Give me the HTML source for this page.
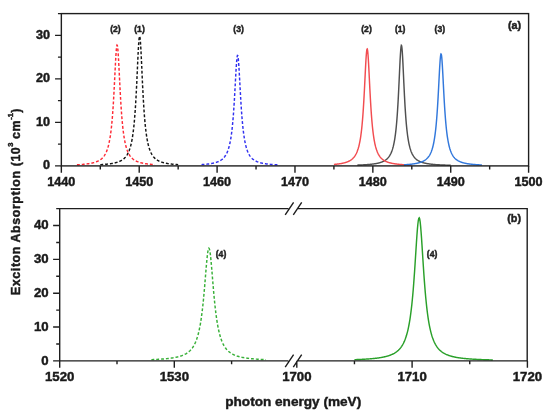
<!DOCTYPE html>
<html><head><meta charset="utf-8"><title>Exciton Absorption</title>
<style>
html,body{margin:0;padding:0;background:#fff;}
body{width:550px;height:414px;overflow:hidden;}
svg{display:block;}
text{font-family:"Liberation Sans",Arial,sans-serif;font-weight:bold;fill:#1a1a1a;stroke:#1a1a1a;stroke-width:0.45px;}
.t{font-size:12.6px;}
.tb{font-size:13.2px;}
.s{font-size:8.6px;fill:#222;stroke:#222;}
.p{font-size:10.8px;fill:#222;stroke:#222;}
.xt{font-size:13.6px;}
.yt{font-size:12.4px;letter-spacing:0.6px;}
.sup{font-size:7.6px;letter-spacing:0.2px;}
</style></head><body>
<svg width="550" height="414" viewBox="0 0 550 414">
<path d="M76.92,164.78 L77.19,164.76 L77.45,164.75 L77.71,164.73 L77.97,164.72 L78.23,164.70 L78.49,164.68 L78.75,164.67 L79.01,164.65 L79.27,164.63 L79.53,164.62 L79.79,164.60 L80.05,164.58 L80.31,164.56 L80.57,164.54 L80.83,164.52 L81.09,164.50 L81.35,164.48 L81.61,164.46 L81.87,164.44 L82.13,164.42 L82.39,164.40 L82.65,164.38 L82.92,164.35 L83.18,164.33 L83.44,164.30 L83.70,164.28 L83.96,164.26 L84.22,164.23 L84.48,164.20 L84.74,164.18 L85.00,164.15 L85.26,164.12 L85.52,164.09 L85.78,164.06 L86.04,164.03 L86.30,164.00 L86.56,163.97 L86.82,163.93 L87.08,163.90 L87.34,163.87 L87.60,163.83 L87.86,163.79 L88.12,163.76 L88.38,163.72 L88.65,163.68 L88.91,163.64 L89.17,163.60 L89.43,163.55 L89.69,163.51 L89.95,163.47 L90.21,163.42 L90.47,163.37 L90.73,163.32 L90.99,163.27 L91.25,163.22 L91.51,163.17 L91.77,163.11 L92.03,163.05 L92.29,163.00 L92.55,162.94 L92.81,162.87 L93.07,162.81 L93.33,162.74 L93.59,162.67 L93.85,162.60 L94.11,162.53 L94.38,162.45 L94.64,162.38 L94.90,162.30 L95.16,162.21 L95.42,162.13 L95.68,162.04 L95.94,161.94 L96.20,161.85 L96.46,161.75 L96.72,161.65 L96.98,161.54 L97.24,161.43 L97.50,161.31 L97.76,161.19 L98.02,161.07 L98.28,160.94 L98.54,160.81 L98.80,160.67 L99.06,160.52 L99.32,160.37 L99.58,160.21 L99.84,160.05 L100.11,159.88 L100.37,159.70 L100.63,159.51 L100.89,159.31 L101.15,159.11 L101.41,158.90 L101.67,158.67 L101.93,158.44 L102.19,158.19 L102.45,157.93 L102.71,157.66 L102.97,157.38 L103.23,157.08 L103.49,156.76 L103.75,156.43 L104.01,156.08 L104.27,155.71 L104.53,155.32 L104.79,154.91 L105.05,154.48 L105.31,154.02 L105.57,153.53 L105.84,153.02 L106.10,152.47 L106.36,151.89 L106.62,151.27 L106.88,150.61 L107.14,149.91 L107.40,149.16 L107.66,148.36 L107.92,147.50 L108.18,146.59 L108.44,145.61 L108.70,144.56 L108.96,143.43 L109.22,142.21 L109.48,140.91 L109.74,139.50 L110.00,137.99 L110.26,136.35 L110.52,134.59 L110.78,132.68 L111.04,130.61 L111.30,128.38 L111.57,125.96 L111.83,123.35 L112.09,120.52 L112.35,117.46 L112.61,114.17 L112.87,110.61 L113.13,106.79 L113.39,102.71 L113.65,98.35 L113.91,93.74 L114.17,88.89 L114.43,83.85 L114.69,78.66 L114.95,73.41 L115.21,68.21 L115.47,63.17 L115.73,58.44 L115.99,54.19 L116.25,50.58 L116.51,47.77 L116.77,45.90 L117.03,45.06 L117.29,45.29 L117.56,46.59 L117.82,48.88 L118.08,52.05 L118.34,55.96 L118.60,60.43 L118.86,65.32 L119.12,70.44 L119.38,75.68 L119.64,80.91 L119.90,86.05 L120.16,91.01 L120.42,95.76 L120.68,100.26 L120.94,104.51 L121.20,108.48 L121.46,112.18 L121.72,115.62 L121.98,118.81 L122.24,121.77 L122.50,124.50 L122.76,127.03 L123.02,129.37 L123.29,131.52 L123.55,133.52 L123.81,135.37 L124.07,137.07 L124.33,138.66 L124.59,140.12 L124.85,141.48 L125.11,142.75 L125.37,143.92 L125.63,145.02 L125.89,146.04 L126.15,146.99 L126.41,147.88 L126.67,148.71 L126.93,149.49 L127.19,150.21 L127.45,150.90 L127.71,151.54 L127.97,152.14 L128.23,152.71 L128.49,153.24 L128.75,153.75 L129.02,154.22 L129.28,154.67 L129.54,155.09 L129.80,155.50 L130.06,155.88 L130.32,156.24 L130.58,156.58 L130.84,156.90 L131.10,157.21 L131.36,157.50 L131.62,157.78 L131.88,158.05 L132.14,158.30 L132.40,158.54 L132.66,158.77 L132.92,158.99 L133.18,159.20 L133.44,159.40 L133.70,159.59 L133.96,159.78 L134.22,159.95 L134.48,160.12 L134.75,160.28 L135.01,160.44 L135.27,160.59 L135.53,160.73 L135.79,160.87 L136.05,161.00 L136.31,161.12 L136.57,161.25 L136.83,161.36 L137.09,161.48 L137.35,161.59 L137.61,161.69 L137.87,161.79 L138.13,161.89 L138.39,161.98 L138.65,162.08 L138.91,162.16 L139.17,162.25 L139.43,162.33 L139.69,162.41 L139.95,162.49 L140.21,162.56 L140.48,162.63 L140.74,162.70 L141.00,162.77 L141.26,162.84 L141.52,162.90 L141.78,162.96 L142.04,163.02 L142.30,163.08 L142.56,163.14 L142.82,163.19 L143.08,163.24 L143.34,163.29 L143.60,163.34 L143.86,163.39 L144.12,163.44 L144.38,163.49 L144.64,163.53 L144.90,163.57 L145.16,163.62 L145.42,163.66 L145.68,163.70 L145.94,163.74 L146.21,163.77 L146.47,163.81 L146.73,163.85 L146.99,163.88 L147.25,163.92 L147.51,163.95 L147.77,163.98 L148.03,164.01 L148.29,164.04 L148.55,164.07 L148.81,164.10 L149.07,164.13 L149.33,164.16 L149.59,164.19 L149.85,164.21 L150.11,164.24 L150.37,164.27 L150.63,164.29 L150.89,164.32 L151.15,164.34 L151.41,164.36 L151.67,164.39 L151.94,164.41 L152.20,164.43 L152.46,164.45 L152.72,164.47 L152.98,164.49 L153.24,164.51 L153.50,164.53 L153.76,164.55 L154.02,164.57 L154.28,164.59 L154.54,164.61 L154.80,164.62" fill="none" stroke="#ff2a35" stroke-width="1.45" stroke-dasharray="2.9 1.95"/>
<path d="M100.29,164.69 L100.55,164.67 L100.81,164.66 L101.07,164.64 L101.33,164.62 L101.59,164.61 L101.85,164.59 L102.11,164.57 L102.37,164.55 L102.63,164.53 L102.89,164.51 L103.15,164.50 L103.41,164.48 L103.67,164.45 L103.93,164.43 L104.19,164.41 L104.45,164.39 L104.72,164.37 L104.98,164.35 L105.24,164.32 L105.50,164.30 L105.76,164.27 L106.02,164.25 L106.28,164.22 L106.54,164.20 L106.80,164.17 L107.06,164.14 L107.32,164.11 L107.58,164.09 L107.84,164.06 L108.10,164.03 L108.36,164.00 L108.62,163.96 L108.88,163.93 L109.14,163.90 L109.40,163.86 L109.66,163.83 L109.92,163.79 L110.18,163.76 L110.45,163.72 L110.71,163.68 L110.97,163.64 L111.23,163.60 L111.49,163.56 L111.75,163.51 L112.01,163.47 L112.27,163.42 L112.53,163.38 L112.79,163.33 L113.05,163.28 L113.31,163.23 L113.57,163.17 L113.83,163.12 L114.09,163.06 L114.35,163.01 L114.61,162.95 L114.87,162.89 L115.13,162.82 L115.39,162.76 L115.65,162.69 L115.91,162.62 L116.18,162.55 L116.44,162.48 L116.70,162.40 L116.96,162.32 L117.22,162.24 L117.48,162.16 L117.74,162.07 L118.00,161.98 L118.26,161.89 L118.52,161.79 L118.78,161.69 L119.04,161.59 L119.30,161.48 L119.56,161.37 L119.82,161.25 L120.08,161.13 L120.34,161.01 L120.60,160.88 L120.86,160.74 L121.12,160.60 L121.38,160.46 L121.64,160.31 L121.90,160.15 L122.17,159.98 L122.43,159.81 L122.69,159.63 L122.95,159.44 L123.21,159.25 L123.47,159.04 L123.73,158.83 L123.99,158.60 L124.25,158.37 L124.51,158.12 L124.77,157.86 L125.03,157.59 L125.29,157.31 L125.55,157.01 L125.81,156.69 L126.07,156.36 L126.33,156.01 L126.59,155.64 L126.85,155.26 L127.11,154.85 L127.37,154.41 L127.63,153.95 L127.90,153.47 L128.16,152.96 L128.42,152.41 L128.68,151.83 L128.94,151.21 L129.20,150.56 L129.46,149.86 L129.72,149.11 L129.98,148.32 L130.24,147.47 L130.50,146.56 L130.76,145.59 L131.02,144.54 L131.28,143.42 L131.54,142.22 L131.80,140.92 L132.06,139.53 L132.32,138.02 L132.58,136.40 L132.84,134.64 L133.10,132.74 L133.36,130.68 L133.63,128.46 L133.89,126.05 L134.15,123.43 L134.41,120.60 L134.67,117.53 L134.93,114.21 L135.19,110.62 L135.45,106.74 L135.71,102.57 L135.97,98.10 L136.23,93.32 L136.49,88.27 L136.75,82.95 L137.01,77.41 L137.27,71.73 L137.53,65.98 L137.79,60.30 L138.05,54.83 L138.31,49.73 L138.57,45.20 L138.83,41.43 L139.09,38.59 L139.36,36.82 L139.62,36.23 L139.88,36.83 L140.14,38.61 L140.40,41.46 L140.66,45.24 L140.92,49.78 L141.18,54.88 L141.44,60.36 L141.70,66.04 L141.96,71.78 L142.22,77.47 L142.48,83.00 L142.74,88.32 L143.00,93.37 L143.26,98.14 L143.52,102.61 L143.78,106.78 L144.04,110.65 L144.30,114.24 L144.56,117.56 L144.82,120.63 L145.09,123.46 L145.35,126.07 L145.61,128.48 L145.87,130.71 L146.13,132.76 L146.39,134.66 L146.65,136.41 L146.91,138.04 L147.17,139.54 L147.43,140.94 L147.69,142.23 L147.95,143.43 L148.21,144.55 L148.47,145.60 L148.73,146.57 L148.99,147.48 L149.25,148.33 L149.51,149.12 L149.77,149.87 L150.03,150.56 L150.29,151.22 L150.55,151.84 L150.82,152.41 L151.08,152.96 L151.34,153.47 L151.60,153.96 L151.86,154.42 L152.12,154.85 L152.38,155.26 L152.64,155.65 L152.90,156.02 L153.16,156.36 L153.42,156.70 L153.68,157.01 L153.94,157.31 L154.20,157.59 L154.46,157.87 L154.72,158.12 L154.98,158.37 L155.24,158.60 L155.50,158.83 L155.76,159.04 L156.02,159.25 L156.28,159.44 L156.55,159.63 L156.81,159.81 L157.07,159.98 L157.33,160.15 L157.59,160.31 L157.85,160.46 L158.11,160.60 L158.37,160.74 L158.63,160.88 L158.89,161.01 L159.15,161.13 L159.41,161.25 L159.67,161.37 L159.93,161.48 L160.19,161.59 L160.45,161.69 L160.71,161.79 L160.97,161.89 L161.23,161.98 L161.49,162.07 L161.75,162.16 L162.01,162.24 L162.27,162.32 L162.54,162.40 L162.80,162.48 L163.06,162.55 L163.32,162.62 L163.58,162.69 L163.84,162.76 L164.10,162.82 L164.36,162.89 L164.62,162.95 L164.88,163.01 L165.14,163.07 L165.40,163.12 L165.66,163.18 L165.92,163.23 L166.18,163.28 L166.44,163.33 L166.70,163.38 L166.96,163.42 L167.22,163.47 L167.48,163.51 L167.74,163.56 L168.00,163.60 L168.27,163.64 L168.53,163.68 L168.79,163.72 L169.05,163.76 L169.31,163.79 L169.57,163.83 L169.83,163.86 L170.09,163.90 L170.35,163.93 L170.61,163.96 L170.87,164.00 L171.13,164.03 L171.39,164.06 L171.65,164.09 L171.91,164.11 L172.17,164.14 L172.43,164.17 L172.69,164.20 L172.95,164.22 L173.21,164.25 L173.47,164.27 L173.73,164.30 L174.00,164.32 L174.26,164.35 L174.52,164.37 L174.78,164.39 L175.04,164.41 L175.30,164.43 L175.56,164.45 L175.82,164.48 L176.08,164.50 L176.34,164.51 L176.60,164.53 L176.86,164.55 L177.12,164.57 L177.38,164.59 L177.64,164.61 L177.90,164.62 L178.16,164.64" fill="none" stroke="#161616" stroke-width="1.45" stroke-dasharray="2.9 1.95"/>
<path d="M201.53,164.63 L201.79,164.61 L202.05,164.59 L202.31,164.57 L202.57,164.55 L202.83,164.53 L203.09,164.51 L203.35,164.49 L203.61,164.47 L203.87,164.44 L204.13,164.42 L204.39,164.40 L204.65,164.38 L204.91,164.35 L205.17,164.33 L205.43,164.30 L205.69,164.28 L205.95,164.25 L206.21,164.22 L206.47,164.20 L206.73,164.17 L206.99,164.14 L207.25,164.11 L207.52,164.08 L207.78,164.05 L208.04,164.01 L208.30,163.98 L208.56,163.95 L208.82,163.91 L209.08,163.88 L209.34,163.84 L209.60,163.80 L209.86,163.76 L210.12,163.72 L210.38,163.68 L210.64,163.64 L210.90,163.59 L211.16,163.55 L211.42,163.50 L211.68,163.46 L211.94,163.41 L212.20,163.36 L212.46,163.31 L212.72,163.25 L212.98,163.20 L213.25,163.14 L213.51,163.08 L213.77,163.02 L214.03,162.96 L214.29,162.90 L214.55,162.83 L214.81,162.76 L215.07,162.69 L215.33,162.62 L215.59,162.54 L215.85,162.46 L216.11,162.38 L216.37,162.30 L216.63,162.21 L216.89,162.12 L217.15,162.03 L217.41,161.93 L217.67,161.83 L217.93,161.72 L218.19,161.61 L218.45,161.50 L218.71,161.38 L218.98,161.26 L219.24,161.14 L219.50,161.00 L219.76,160.87 L220.02,160.72 L220.28,160.57 L220.54,160.42 L220.80,160.25 L221.06,160.08 L221.32,159.91 L221.58,159.72 L221.84,159.53 L222.10,159.32 L222.36,159.11 L222.62,158.89 L222.88,158.65 L223.14,158.41 L223.40,158.15 L223.66,157.88 L223.92,157.59 L224.18,157.29 L224.44,156.97 L224.71,156.64 L224.97,156.29 L225.23,155.91 L225.49,155.52 L225.75,155.10 L226.01,154.66 L226.27,154.19 L226.53,153.70 L226.79,153.17 L227.05,152.61 L227.31,152.01 L227.57,151.38 L227.83,150.70 L228.09,149.97 L228.35,149.20 L228.61,148.37 L228.87,147.49 L229.13,146.54 L229.39,145.51 L229.65,144.42 L229.91,143.24 L230.17,141.97 L230.44,140.60 L230.70,139.12 L230.96,137.52 L231.22,135.80 L231.48,133.93 L231.74,131.92 L232.00,129.73 L232.26,127.37 L232.52,124.82 L232.78,122.06 L233.04,119.07 L233.30,115.86 L233.56,112.41 L233.82,108.71 L234.08,104.76 L234.34,100.58 L234.60,96.18 L234.86,91.59 L235.12,86.87 L235.38,82.07 L235.64,77.30 L235.90,72.66 L236.17,68.28 L236.43,64.32 L236.69,60.92 L236.95,58.23 L237.21,56.39 L237.47,55.47 L237.73,55.53 L237.99,56.57 L238.25,58.53 L238.51,61.31 L238.77,64.79 L239.03,68.82 L239.29,73.23 L239.55,77.90 L239.81,82.68 L240.07,87.47 L240.33,92.18 L240.59,96.74 L240.85,101.12 L241.11,105.27 L241.37,109.19 L241.63,112.86 L241.89,116.28 L242.16,119.46 L242.42,122.42 L242.68,125.15 L242.94,127.68 L243.20,130.02 L243.46,132.18 L243.72,134.18 L243.98,136.02 L244.24,137.73 L244.50,139.31 L244.76,140.78 L245.02,142.13 L245.28,143.39 L245.54,144.56 L245.80,145.65 L246.06,146.66 L246.32,147.60 L246.58,148.48 L246.84,149.30 L247.10,150.07 L247.36,150.79 L247.62,151.46 L247.89,152.09 L248.15,152.68 L248.41,153.24 L248.67,153.76 L248.93,154.25 L249.19,154.72 L249.45,155.16 L249.71,155.57 L249.97,155.96 L250.23,156.33 L250.49,156.68 L250.75,157.01 L251.01,157.33 L251.27,157.63 L251.53,157.91 L251.79,158.18 L252.05,158.44 L252.31,158.68 L252.57,158.92 L252.83,159.14 L253.09,159.35 L253.35,159.55 L253.62,159.75 L253.88,159.93 L254.14,160.11 L254.40,160.28 L254.66,160.44 L254.92,160.59 L255.18,160.74 L255.44,160.88 L255.70,161.02 L255.96,161.15 L256.22,161.28 L256.48,161.40 L256.74,161.52 L257.00,161.63 L257.26,161.74 L257.52,161.84 L257.78,161.94 L258.04,162.04 L258.30,162.13 L258.56,162.22 L258.82,162.31 L259.08,162.39 L259.35,162.47 L259.61,162.55 L259.87,162.63 L260.13,162.70 L260.39,162.77 L260.65,162.84 L260.91,162.90 L261.17,162.97 L261.43,163.03 L261.69,163.09 L261.95,163.15 L262.21,163.20 L262.47,163.26 L262.73,163.31 L262.99,163.36 L263.25,163.41 L263.51,163.46 L263.77,163.51 L264.03,163.56 L264.29,163.60 L264.55,163.64 L264.81,163.69 L265.08,163.73 L265.34,163.77 L265.60,163.81 L265.86,163.84 L266.12,163.88 L266.38,163.92 L266.64,163.95 L266.90,163.98 L267.16,164.02 L267.42,164.05 L267.68,164.08 L267.94,164.11 L268.20,164.14 L268.46,164.17 L268.72,164.20 L268.98,164.23 L269.24,164.25 L269.50,164.28 L269.76,164.31 L270.02,164.33 L270.28,164.36 L270.54,164.38 L270.81,164.40 L271.07,164.43 L271.33,164.45 L271.59,164.47 L271.85,164.49 L272.11,164.51 L272.37,164.53 L272.63,164.55 L272.89,164.57 L273.15,164.59 L273.41,164.61 L273.67,164.63 L273.93,164.65 L274.19,164.66 L274.45,164.68 L274.71,164.70 L274.97,164.71 L275.23,164.73 L275.49,164.75 L275.75,164.76 L276.01,164.78 L276.27,164.79 L276.54,164.81 L276.80,164.82 L277.06,164.83 L277.32,164.85 L277.58,164.86 L277.84,164.88 L278.10,164.89 L278.36,164.90 L278.62,164.91 L278.88,164.93 L279.14,164.94 L279.40,164.95" fill="none" stroke="#3030f0" stroke-width="1.45" stroke-dasharray="2.9 1.95"/>
<path d="M357.28,165.11 L357.59,165.10 L357.90,165.09 L358.21,165.08 L358.53,165.07 L358.84,165.05 L359.15,165.04 L359.46,165.03 L359.78,165.02 L360.09,165.00 L360.40,164.99 L360.71,164.97 L361.03,164.96 L361.34,164.95 L361.65,164.93 L361.96,164.92 L362.28,164.90 L362.59,164.88 L362.90,164.87 L363.21,164.85 L363.53,164.83 L363.84,164.82 L364.15,164.80 L364.46,164.78 L364.78,164.76 L365.09,164.74 L365.40,164.72 L365.71,164.70 L366.03,164.68 L366.34,164.66 L366.65,164.63 L366.96,164.61 L367.28,164.59 L367.59,164.56 L367.90,164.54 L368.21,164.51 L368.53,164.49 L368.84,164.46 L369.15,164.43 L369.46,164.41 L369.78,164.38 L370.09,164.35 L370.40,164.31 L370.71,164.28 L371.03,164.25 L371.34,164.22 L371.65,164.18 L371.96,164.14 L372.28,164.11 L372.59,164.07 L372.90,164.03 L373.21,163.99 L373.53,163.95 L373.84,163.90 L374.15,163.86 L374.46,163.81 L374.78,163.76 L375.09,163.71 L375.40,163.66 L375.71,163.61 L376.03,163.55 L376.34,163.49 L376.65,163.43 L376.97,163.37 L377.28,163.31 L377.59,163.24 L377.90,163.17 L378.22,163.10 L378.53,163.02 L378.84,162.94 L379.15,162.86 L379.47,162.78 L379.78,162.69 L380.09,162.60 L380.40,162.50 L380.72,162.40 L381.03,162.30 L381.34,162.19 L381.65,162.07 L381.97,161.95 L382.28,161.83 L382.59,161.69 L382.90,161.56 L383.22,161.41 L383.53,161.26 L383.84,161.10 L384.15,160.93 L384.47,160.75 L384.78,160.57 L385.09,160.37 L385.40,160.16 L385.72,159.95 L386.03,159.71 L386.34,159.47 L386.65,159.21 L386.97,158.93 L387.28,158.64 L387.59,158.33 L387.90,158.00 L388.22,157.65 L388.53,157.27 L388.84,156.87 L389.15,156.44 L389.47,155.98 L389.78,155.49 L390.09,154.96 L390.40,154.39 L390.72,153.78 L391.03,153.12 L391.34,152.40 L391.65,151.63 L391.97,150.79 L392.28,149.88 L392.59,148.89 L392.90,147.81 L393.22,146.63 L393.53,145.34 L393.84,143.93 L394.15,142.38 L394.47,140.67 L394.78,138.79 L395.09,136.71 L395.41,134.42 L395.72,131.88 L396.03,129.07 L396.34,125.95 L396.66,122.49 L396.97,118.66 L397.28,114.43 L397.59,109.77 L397.91,104.66 L398.22,99.09 L398.53,93.08 L398.84,86.68 L399.16,80.00 L399.47,73.18 L399.78,66.45 L400.09,60.10 L400.41,54.48 L400.72,49.94 L401.03,46.84 L401.34,45.44 L401.66,45.84 L401.97,48.03 L402.28,51.80 L402.59,56.87 L402.91,62.86 L403.22,69.42 L403.53,76.22 L403.84,83.00 L404.16,89.57 L404.47,95.80 L404.78,101.62 L405.09,106.99 L405.41,111.90 L405.72,116.37 L406.03,120.41 L406.34,124.07 L406.66,127.37 L406.97,130.35 L407.28,133.04 L407.59,135.47 L407.91,137.66 L408.22,139.65 L408.53,141.45 L408.84,143.09 L409.16,144.58 L409.47,145.93 L409.78,147.17 L410.09,148.30 L410.41,149.34 L410.72,150.30 L411.03,151.17 L411.34,151.98 L411.66,152.73 L411.97,153.42 L412.28,154.06 L412.59,154.65 L412.91,155.20 L413.22,155.71 L413.53,156.19 L413.85,156.64 L414.16,157.05 L414.47,157.44 L414.78,157.81 L415.10,158.15 L415.41,158.47 L415.72,158.77 L416.03,159.06 L416.35,159.33 L416.66,159.58 L416.97,159.82 L417.28,160.04 L417.60,160.26 L417.91,160.46 L418.22,160.65 L418.53,160.83 L418.85,161.01 L419.16,161.17 L419.47,161.33 L419.78,161.48 L420.10,161.62 L420.41,161.75 L420.72,161.88 L421.03,162.01 L421.35,162.12 L421.66,162.23 L421.97,162.34 L422.28,162.45 L422.60,162.54 L422.91,162.64 L423.22,162.73 L423.53,162.82 L423.85,162.90 L424.16,162.98 L424.47,163.06 L424.78,163.13 L425.10,163.20 L425.41,163.27 L425.72,163.33 L426.03,163.40 L426.35,163.46 L426.66,163.52 L426.97,163.57 L427.28,163.63 L427.60,163.68 L427.91,163.73 L428.22,163.78 L428.53,163.83 L428.85,163.88 L429.16,163.92 L429.47,163.96 L429.78,164.01 L430.10,164.05 L430.41,164.09 L430.72,164.12 L431.03,164.16 L431.35,164.20 L431.66,164.23 L431.97,164.26 L432.29,164.30 L432.60,164.33 L432.91,164.36 L433.22,164.39 L433.54,164.42 L433.85,164.45 L434.16,164.47 L434.47,164.50 L434.79,164.53 L435.10,164.55 L435.41,164.58 L435.72,164.60 L436.04,164.62 L436.35,164.64 L436.66,164.67 L436.97,164.69 L437.29,164.71 L437.60,164.73 L437.91,164.75 L438.22,164.77 L438.54,164.79 L438.85,164.81 L439.16,164.82 L439.47,164.84 L439.79,164.86 L440.10,164.87 L440.41,164.89 L440.72,164.91 L441.04,164.92 L441.35,164.94 L441.66,164.95 L441.97,164.97 L442.29,164.98 L442.60,164.99 L442.91,165.01 L443.22,165.02 L443.54,165.03 L443.85,165.05 L444.16,165.06 L444.47,165.07 L444.79,165.08 L445.10,165.09 L445.41,165.11 L445.72,165.12 L446.04,165.13 L446.35,165.14 L446.66,165.15 L446.97,165.16 L447.29,165.17 L447.60,165.18 L447.91,165.19 L448.22,165.20 L448.54,165.21 L448.85,165.22 L449.16,165.22 L449.47,165.23 L449.79,165.24 L450.10,165.25 L450.41,165.26 L450.73,165.27" fill="none" stroke="#505050" stroke-width="1.45"/>
<path d="M333.91,164.44 L334.17,164.42 L334.43,164.39 L334.69,164.37 L334.95,164.34 L335.21,164.32 L335.48,164.29 L335.74,164.27 L336.00,164.24 L336.26,164.21 L336.52,164.18 L336.78,164.16 L337.04,164.13 L337.30,164.09 L337.56,164.06 L337.82,164.03 L338.08,164.00 L338.34,163.96 L338.60,163.93 L338.86,163.89 L339.12,163.86 L339.38,163.82 L339.64,163.78 L339.90,163.74 L340.16,163.70 L340.42,163.66 L340.68,163.61 L340.94,163.57 L341.21,163.52 L341.47,163.47 L341.73,163.43 L341.99,163.38 L342.25,163.32 L342.51,163.27 L342.77,163.22 L343.03,163.16 L343.29,163.10 L343.55,163.04 L343.81,162.98 L344.07,162.91 L344.33,162.85 L344.59,162.78 L344.85,162.70 L345.11,162.63 L345.37,162.55 L345.63,162.48 L345.89,162.39 L346.15,162.31 L346.41,162.22 L346.67,162.13 L346.94,162.04 L347.20,161.94 L347.46,161.84 L347.72,161.73 L347.98,161.62 L348.24,161.51 L348.50,161.39 L348.76,161.26 L349.02,161.14 L349.28,161.00 L349.54,160.86 L349.80,160.72 L350.06,160.56 L350.32,160.41 L350.58,160.24 L350.84,160.07 L351.10,159.89 L351.36,159.70 L351.62,159.50 L351.88,159.29 L352.14,159.07 L352.40,158.85 L352.67,158.61 L352.93,158.35 L353.19,158.09 L353.45,157.81 L353.71,157.52 L353.97,157.21 L354.23,156.88 L354.49,156.54 L354.75,156.17 L355.01,155.79 L355.27,155.38 L355.53,154.95 L355.79,154.49 L356.05,154.01 L356.31,153.49 L356.57,152.94 L356.83,152.35 L357.09,151.73 L357.35,151.06 L357.61,150.35 L357.87,149.59 L358.13,148.78 L358.39,147.90 L358.66,146.97 L358.92,145.96 L359.18,144.88 L359.44,143.71 L359.70,142.45 L359.96,141.09 L360.22,139.62 L360.48,138.03 L360.74,136.31 L361.00,134.44 L361.26,132.42 L361.52,130.22 L361.78,127.83 L362.04,125.24 L362.30,122.43 L362.56,119.38 L362.82,116.08 L363.08,112.51 L363.34,108.67 L363.60,104.54 L363.86,100.13 L364.12,95.45 L364.39,90.53 L364.65,85.41 L364.91,80.16 L365.17,74.87 L365.43,69.65 L365.69,64.66 L365.95,60.07 L366.21,56.04 L366.47,52.77 L366.73,50.42 L366.99,49.10 L367.25,48.91 L367.51,49.84 L367.77,51.84 L368.03,54.82 L368.29,58.60 L368.55,63.02 L368.81,67.89 L369.07,73.05 L369.33,78.33 L369.59,83.60 L369.85,88.78 L370.12,93.77 L370.38,98.54 L370.64,103.04 L370.90,107.27 L371.16,111.21 L371.42,114.88 L371.68,118.27 L371.94,121.40 L372.20,124.29 L372.46,126.96 L372.72,129.41 L372.98,131.67 L373.24,133.76 L373.50,135.68 L373.76,137.45 L374.02,139.08 L374.28,140.59 L374.54,141.99 L374.80,143.28 L375.06,144.48 L375.32,145.59 L375.58,146.63 L375.85,147.59 L376.11,148.48 L376.37,149.32 L376.63,150.10 L376.89,150.82 L377.15,151.51 L377.41,152.14 L377.67,152.74 L377.93,153.30 L378.19,153.83 L378.45,154.33 L378.71,154.79 L378.97,155.23 L379.23,155.65 L379.49,156.04 L379.75,156.41 L380.01,156.76 L380.27,157.10 L380.53,157.41 L380.79,157.71 L381.05,157.99 L381.31,158.26 L381.58,158.52 L381.84,158.76 L382.10,159.00 L382.36,159.22 L382.62,159.43 L382.88,159.63 L383.14,159.82 L383.40,160.01 L383.66,160.18 L383.92,160.35 L384.18,160.51 L384.44,160.66 L384.70,160.81 L384.96,160.95 L385.22,161.09 L385.48,161.22 L385.74,161.35 L386.00,161.47 L386.26,161.58 L386.52,161.69 L386.78,161.80 L387.04,161.90 L387.31,162.00 L387.57,162.10 L387.83,162.19 L388.09,162.28 L388.35,162.36 L388.61,162.45 L388.87,162.53 L389.13,162.60 L389.39,162.68 L389.65,162.75 L389.91,162.82 L390.17,162.89 L390.43,162.95 L390.69,163.02 L390.95,163.08 L391.21,163.14 L391.47,163.20 L391.73,163.25 L391.99,163.31 L392.25,163.36 L392.51,163.41 L392.77,163.46 L393.03,163.51 L393.30,163.55 L393.56,163.60 L393.82,163.64 L394.08,163.68 L394.34,163.73 L394.60,163.77 L394.86,163.81 L395.12,163.84 L395.38,163.88 L395.64,163.92 L395.90,163.95 L396.16,163.99 L396.42,164.02 L396.68,164.05 L396.94,164.08 L397.20,164.11 L397.46,164.14 L397.72,164.17 L397.98,164.20 L398.24,164.23 L398.50,164.26 L398.76,164.28 L399.03,164.31 L399.29,164.34 L399.55,164.36 L399.81,164.38 L400.07,164.41 L400.33,164.43 L400.59,164.45 L400.85,164.48 L401.11,164.50 L401.37,164.52 L401.63,164.54 L401.89,164.56 L402.15,164.58 L402.41,164.60 L402.67,164.62 L402.93,164.64 L403.19,164.65 L403.45,164.67 L403.71,164.69 L403.97,164.71 L404.23,164.72 L404.49,164.74 L404.76,164.75 L405.02,164.77 L405.28,164.78 L405.54,164.80 L405.80,164.81 L406.06,164.83 L406.32,164.84 L406.58,164.86 L406.84,164.87 L407.10,164.88 L407.36,164.90 L407.62,164.91 L407.88,164.92 L408.14,164.93 L408.40,164.95 L408.66,164.96 L408.92,164.97 L409.18,164.98 L409.44,164.99 L409.70,165.00 L409.96,165.01 L410.22,165.02 L410.49,165.03 L410.75,165.05 L411.01,165.06 L411.27,165.07 L411.53,165.07 L411.79,165.08" fill="none" stroke="#f24c50" stroke-width="1.45"/>
<path d="M404.00,164.77 L404.26,164.76 L404.52,164.74 L404.78,164.72 L405.04,164.71 L405.30,164.69 L405.56,164.67 L405.82,164.65 L406.08,164.64 L406.34,164.62 L406.60,164.60 L406.86,164.58 L407.13,164.56 L407.39,164.54 L407.65,164.52 L407.91,164.49 L408.17,164.47 L408.43,164.45 L408.69,164.43 L408.95,164.40 L409.21,164.38 L409.47,164.35 L409.73,164.33 L409.99,164.30 L410.25,164.28 L410.51,164.25 L410.77,164.22 L411.03,164.19 L411.29,164.16 L411.55,164.13 L411.81,164.10 L412.07,164.07 L412.33,164.04 L412.59,164.00 L412.86,163.97 L413.12,163.93 L413.38,163.89 L413.64,163.86 L413.90,163.82 L414.16,163.78 L414.42,163.74 L414.68,163.70 L414.94,163.65 L415.20,163.61 L415.46,163.56 L415.72,163.52 L415.98,163.47 L416.24,163.42 L416.50,163.36 L416.76,163.31 L417.02,163.26 L417.28,163.20 L417.54,163.14 L417.80,163.08 L418.06,163.02 L418.32,162.95 L418.59,162.89 L418.85,162.82 L419.11,162.75 L419.37,162.67 L419.63,162.59 L419.89,162.52 L420.15,162.43 L420.41,162.35 L420.67,162.26 L420.93,162.17 L421.19,162.07 L421.45,161.97 L421.71,161.87 L421.97,161.77 L422.23,161.65 L422.49,161.54 L422.75,161.42 L423.01,161.29 L423.27,161.16 L423.53,161.03 L423.79,160.89 L424.05,160.74 L424.32,160.59 L424.58,160.43 L424.84,160.26 L425.10,160.08 L425.36,159.90 L425.62,159.70 L425.88,159.50 L426.14,159.29 L426.40,159.07 L426.66,158.83 L426.92,158.59 L427.18,158.33 L427.44,158.06 L427.70,157.77 L427.96,157.47 L428.22,157.15 L428.48,156.82 L428.74,156.46 L429.00,156.09 L429.26,155.69 L429.52,155.27 L429.78,154.82 L430.05,154.34 L430.31,153.84 L430.57,153.30 L430.83,152.73 L431.09,152.12 L431.35,151.47 L431.61,150.77 L431.87,150.02 L432.13,149.23 L432.39,148.37 L432.65,147.45 L432.91,146.46 L433.17,145.39 L433.43,144.25 L433.69,143.01 L433.95,141.67 L434.21,140.23 L434.47,138.66 L434.73,136.96 L434.99,135.13 L435.25,133.13 L435.51,130.97 L435.78,128.62 L436.04,126.07 L436.30,123.30 L436.56,120.30 L436.82,117.05 L437.08,113.54 L437.34,109.77 L437.60,105.72 L437.86,101.41 L438.12,96.84 L438.38,92.06 L438.64,87.11 L438.90,82.06 L439.16,77.00 L439.42,72.07 L439.68,67.40 L439.94,63.18 L440.20,59.56 L440.46,56.71 L440.72,54.80 L440.98,53.91 L441.24,54.10 L441.51,55.36 L441.77,57.62 L442.03,60.75 L442.29,64.60 L442.55,69.01 L442.81,73.78 L443.07,78.77 L443.33,83.84 L443.59,88.87 L443.85,93.77 L444.11,98.48 L444.37,102.95 L444.63,107.17 L444.89,111.13 L445.15,114.81 L445.41,118.22 L445.67,121.38 L445.93,124.30 L446.19,126.99 L446.45,129.47 L446.71,131.75 L446.97,133.85 L447.23,135.79 L447.50,137.58 L447.76,139.23 L448.02,140.75 L448.28,142.15 L448.54,143.46 L448.80,144.66 L449.06,145.78 L449.32,146.82 L449.58,147.78 L449.84,148.68 L450.10,149.51 L450.36,150.29 L450.62,151.02 L450.88,151.70 L451.14,152.34 L451.40,152.93 L451.66,153.49 L451.92,154.02 L452.18,154.52 L452.44,154.98 L452.70,155.42 L452.96,155.83 L453.23,156.22 L453.49,156.59 L453.75,156.94 L454.01,157.27 L454.27,157.58 L454.53,157.88 L454.79,158.16 L455.05,158.42 L455.31,158.68 L455.57,158.92 L455.83,159.15 L456.09,159.37 L456.35,159.57 L456.61,159.77 L456.87,159.96 L457.13,160.14 L457.39,160.32 L457.65,160.48 L457.91,160.64 L458.17,160.79 L458.43,160.94 L458.69,161.08 L458.96,161.21 L459.22,161.34 L459.48,161.46 L459.74,161.58 L460.00,161.69 L460.26,161.80 L460.52,161.91 L460.78,162.01 L461.04,162.11 L461.30,162.20 L461.56,162.29 L461.82,162.38 L462.08,162.46 L462.34,162.54 L462.60,162.62 L462.86,162.70 L463.12,162.77 L463.38,162.84 L463.64,162.91 L463.90,162.98 L464.16,163.04 L464.42,163.10 L464.69,163.16 L464.95,163.22 L465.21,163.28 L465.47,163.33 L465.73,163.38 L465.99,163.43 L466.25,163.48 L466.51,163.53 L466.77,163.58 L467.03,163.62 L467.29,163.67 L467.55,163.71 L467.81,163.75 L468.07,163.79 L468.33,163.83 L468.59,163.87 L468.85,163.91 L469.11,163.94 L469.37,163.98 L469.63,164.01 L469.89,164.05 L470.15,164.08 L470.42,164.11 L470.68,164.14 L470.94,164.17 L471.20,164.20 L471.46,164.23 L471.72,164.26 L471.98,164.28 L472.24,164.31 L472.50,164.34 L472.76,164.36 L473.02,164.39 L473.28,164.41 L473.54,164.43 L473.80,164.46 L474.06,164.48 L474.32,164.50 L474.58,164.52 L474.84,164.54 L475.10,164.56 L475.36,164.58 L475.62,164.60 L475.88,164.62 L476.15,164.64 L476.41,164.66 L476.67,164.68 L476.93,164.70 L477.19,164.71 L477.45,164.73 L477.71,164.75 L477.97,164.76 L478.23,164.78 L478.49,164.79 L478.75,164.81 L479.01,164.82 L479.27,164.84 L479.53,164.85 L479.79,164.87 L480.05,164.88 L480.31,164.89 L480.57,164.91 L480.83,164.92 L481.09,164.93 L481.35,164.94 L481.61,164.96 L481.88,164.97" fill="none" stroke="#3278dc" stroke-width="1.45"/>
<path d="M151.38,359.65 L151.76,359.64 L152.15,359.62 L152.53,359.61 L152.91,359.59 L153.30,359.57 L153.68,359.55 L154.06,359.54 L154.45,359.52 L154.83,359.50 L155.21,359.48 L155.60,359.46 L155.98,359.44 L156.36,359.42 L156.75,359.40 L157.13,359.38 L157.51,359.36 L157.90,359.33 L158.28,359.31 L158.66,359.29 L159.05,359.26 L159.43,359.24 L159.81,359.21 L160.20,359.19 L160.58,359.16 L160.96,359.14 L161.35,359.11 L161.73,359.08 L162.11,359.05 L162.50,359.02 L162.88,358.99 L163.26,358.96 L163.64,358.93 L164.03,358.90 L164.41,358.86 L164.79,358.83 L165.18,358.80 L165.56,358.76 L165.94,358.72 L166.33,358.69 L166.71,358.65 L167.09,358.61 L167.48,358.57 L167.86,358.52 L168.24,358.48 L168.63,358.44 L169.01,358.39 L169.39,358.34 L169.78,358.30 L170.16,358.25 L170.54,358.20 L170.93,358.14 L171.31,358.09 L171.69,358.03 L172.08,357.98 L172.46,357.92 L172.84,357.86 L173.23,357.79 L173.61,357.73 L173.99,357.66 L174.38,357.59 L174.76,357.52 L175.14,357.45 L175.53,357.37 L175.91,357.29 L176.29,357.21 L176.68,357.13 L177.06,357.04 L177.44,356.95 L177.83,356.86 L178.21,356.76 L178.59,356.66 L178.98,356.55 L179.36,356.45 L179.74,356.34 L180.13,356.22 L180.51,356.10 L180.89,355.97 L181.28,355.84 L181.66,355.71 L182.04,355.57 L182.43,355.42 L182.81,355.27 L183.19,355.11 L183.58,354.94 L183.96,354.77 L184.34,354.59 L184.73,354.40 L185.11,354.20 L185.49,354.00 L185.87,353.78 L186.26,353.56 L186.64,353.32 L187.02,353.07 L187.41,352.81 L187.79,352.54 L188.17,352.25 L188.56,351.95 L188.94,351.64 L189.32,351.30 L189.71,350.95 L190.09,350.58 L190.47,350.19 L190.86,349.78 L191.24,349.34 L191.62,348.88 L192.01,348.39 L192.39,347.88 L192.77,347.33 L193.16,346.74 L193.54,346.12 L193.92,345.47 L194.31,344.76 L194.69,344.02 L195.07,343.22 L195.46,342.37 L195.84,341.46 L196.22,340.48 L196.61,339.44 L196.99,338.32 L197.37,337.12 L197.76,335.83 L198.14,334.44 L198.52,332.95 L198.91,331.34 L199.29,329.60 L199.67,327.73 L200.06,325.72 L200.44,323.54 L200.82,321.20 L201.21,318.67 L201.59,315.94 L201.97,313.01 L202.36,309.85 L202.74,306.47 L203.12,302.86 L203.51,299.02 L203.89,294.95 L204.27,290.67 L204.66,286.21 L205.04,281.61 L205.42,276.92 L205.81,272.23 L206.19,267.62 L206.57,263.21 L206.96,259.12 L207.34,255.50 L207.72,252.49 L208.11,250.20 L208.49,248.74 L208.87,248.19 L209.25,248.56 L209.64,249.85 L210.02,251.98 L210.40,254.86 L210.79,258.37 L211.17,262.37 L211.55,266.73 L211.94,271.31 L212.32,276.00 L212.70,280.70 L213.09,285.32 L213.47,289.81 L213.85,294.13 L214.24,298.24 L214.62,302.13 L215.00,305.79 L215.39,309.21 L215.77,312.41 L216.15,315.38 L216.54,318.15 L216.92,320.72 L217.30,323.10 L217.69,325.31 L218.07,327.35 L218.45,329.25 L218.84,331.01 L219.22,332.64 L219.60,334.16 L219.99,335.56 L220.37,336.87 L220.75,338.09 L221.14,339.23 L221.52,340.28 L221.90,341.27 L222.29,342.19 L222.67,343.06 L223.05,343.86 L223.44,344.62 L223.82,345.33 L224.20,346.00 L224.59,346.63 L224.97,347.22 L225.35,347.77 L225.74,348.29 L226.12,348.79 L226.50,349.25 L226.89,349.69 L227.27,350.11 L227.65,350.51 L228.04,350.88 L228.42,351.24 L228.80,351.57 L229.19,351.89 L229.57,352.20 L229.95,352.49 L230.34,352.76 L230.72,353.02 L231.10,353.27 L231.49,353.51 L231.87,353.74 L232.25,353.96 L232.63,354.16 L233.02,354.36 L233.40,354.55 L233.78,354.74 L234.17,354.91 L234.55,355.08 L234.93,355.24 L235.32,355.39 L235.70,355.54 L236.08,355.68 L236.47,355.82 L236.85,355.95 L237.23,356.07 L237.62,356.20 L238.00,356.31 L238.38,356.43 L238.77,356.53 L239.15,356.64 L239.53,356.74 L239.92,356.84 L240.30,356.93 L240.68,357.02 L241.07,357.11 L241.45,357.19 L241.83,357.28 L242.22,357.36 L242.60,357.43 L242.98,357.51 L243.37,357.58 L243.75,357.65 L244.13,357.72 L244.52,357.78 L244.90,357.84 L245.28,357.91 L245.67,357.96 L246.05,358.02 L246.43,358.08 L246.82,358.13 L247.20,358.19 L247.58,358.24 L247.97,358.29 L248.35,358.34 L248.73,358.38 L249.12,358.43 L249.50,358.47 L249.88,358.52 L250.27,358.56 L250.65,358.60 L251.03,358.64 L251.42,358.68 L251.80,358.72 L252.18,358.75 L252.57,358.79 L252.95,358.82 L253.33,358.86 L253.72,358.89 L254.10,358.92 L254.48,358.96 L254.86,358.99 L255.25,359.02 L255.63,359.05 L256.01,359.08 L256.40,359.10 L256.78,359.13 L257.16,359.16 L257.55,359.18 L257.93,359.21 L258.31,359.23 L258.70,359.26 L259.08,359.28 L259.46,359.31 L259.85,359.33 L260.23,359.35 L260.61,359.37 L261.00,359.39 L261.38,359.42 L261.76,359.44 L262.15,359.46 L262.53,359.48 L262.91,359.49 L263.30,359.51 L263.68,359.53 L264.06,359.55 L264.45,359.57 L264.83,359.58 L265.21,359.60 L265.60,359.62 L265.98,359.63" fill="none" stroke="#38b038" stroke-width="1.45" stroke-dasharray="2.9 1.95"/>
<path d="M354.45,359.68 L354.91,359.66 L355.38,359.64 L355.84,359.63 L356.30,359.61 L356.76,359.59 L357.23,359.57 L357.69,359.55 L358.15,359.53 L358.61,359.51 L359.08,359.49 L359.54,359.47 L360.00,359.45 L360.47,359.43 L360.93,359.40 L361.39,359.38 L361.85,359.36 L362.32,359.33 L362.78,359.31 L363.24,359.28 L363.70,359.26 L364.17,359.23 L364.63,359.20 L365.09,359.18 L365.56,359.15 L366.02,359.12 L366.48,359.09 L366.94,359.06 L367.41,359.02 L367.87,358.99 L368.33,358.96 L368.80,358.92 L369.26,358.89 L369.72,358.85 L370.18,358.81 L370.65,358.78 L371.11,358.74 L371.57,358.70 L372.03,358.65 L372.50,358.61 L372.96,358.57 L373.42,358.52 L373.89,358.47 L374.35,358.42 L374.81,358.37 L375.27,358.32 L375.74,358.27 L376.20,358.21 L376.66,358.16 L377.12,358.10 L377.59,358.04 L378.05,357.98 L378.51,357.91 L378.98,357.85 L379.44,357.78 L379.90,357.71 L380.36,357.63 L380.83,357.56 L381.29,357.48 L381.75,357.39 L382.21,357.31 L382.68,357.22 L383.14,357.13 L383.60,357.03 L384.07,356.94 L384.53,356.83 L384.99,356.73 L385.45,356.62 L385.92,356.50 L386.38,356.38 L386.84,356.26 L387.30,356.13 L387.77,355.99 L388.23,355.85 L388.69,355.70 L389.16,355.55 L389.62,355.39 L390.08,355.22 L390.54,355.04 L391.01,354.86 L391.47,354.66 L391.93,354.46 L392.39,354.25 L392.86,354.02 L393.32,353.79 L393.78,353.54 L394.25,353.28 L394.71,353.01 L395.17,352.72 L395.63,352.42 L396.10,352.10 L396.56,351.76 L397.02,351.40 L397.49,351.02 L397.95,350.61 L398.41,350.19 L398.87,349.73 L399.34,349.25 L399.80,348.73 L400.26,348.18 L400.72,347.60 L401.19,346.97 L401.65,346.31 L402.11,345.59 L402.58,344.82 L403.04,344.00 L403.50,343.11 L403.96,342.15 L404.43,341.12 L404.89,340.01 L405.35,338.81 L405.81,337.50 L406.28,336.09 L406.74,334.55 L407.20,332.88 L407.67,331.06 L408.13,329.07 L408.59,326.89 L409.05,324.51 L409.52,321.90 L409.98,319.05 L410.44,315.91 L410.90,312.47 L411.37,308.70 L411.83,304.56 L412.29,300.03 L412.76,295.09 L413.22,289.71 L413.68,283.89 L414.14,277.64 L414.61,270.99 L415.07,264.00 L415.53,256.77 L415.99,249.47 L416.46,242.29 L416.92,235.49 L417.38,229.38 L417.85,224.28 L418.31,220.50 L418.77,218.28 L419.23,217.78 L419.70,219.04 L420.16,221.96 L420.62,226.36 L421.08,231.94 L421.55,238.38 L422.01,245.38 L422.47,252.64 L422.94,259.94 L423.40,267.07 L423.86,273.93 L424.32,280.41 L424.79,286.48 L425.25,292.11 L425.71,297.29 L426.18,302.05 L426.64,306.41 L427.10,310.38 L427.56,314.01 L428.03,317.31 L428.49,320.32 L428.95,323.07 L429.41,325.57 L429.88,327.86 L430.34,329.95 L430.80,331.87 L431.27,333.62 L431.73,335.24 L432.19,336.72 L432.65,338.08 L433.12,339.34 L433.58,340.51 L434.04,341.58 L434.50,342.58 L434.97,343.50 L435.43,344.36 L435.89,345.16 L436.36,345.91 L436.82,346.60 L437.28,347.25 L437.74,347.86 L438.21,348.43 L438.67,348.96 L439.13,349.46 L439.59,349.93 L440.06,350.37 L440.52,350.79 L440.98,351.18 L441.45,351.56 L441.91,351.91 L442.37,352.24 L442.83,352.55 L443.30,352.85 L443.76,353.13 L444.22,353.40 L444.68,353.65 L445.15,353.89 L445.61,354.12 L446.07,354.34 L446.54,354.55 L447.00,354.75 L447.46,354.94 L447.92,355.12 L448.39,355.29 L448.85,355.46 L449.31,355.62 L449.77,355.77 L450.24,355.91 L450.70,356.05 L451.16,356.18 L451.63,356.31 L452.09,356.43 L452.55,356.55 L453.01,356.67 L453.48,356.77 L453.94,356.88 L454.40,356.98 L454.87,357.08 L455.33,357.17 L455.79,357.26 L456.25,357.35 L456.72,357.43 L457.18,357.51 L457.64,357.59 L458.10,357.66 L458.57,357.74 L459.03,357.81 L459.49,357.88 L459.96,357.94 L460.42,358.00 L460.88,358.07 L461.34,358.13 L461.81,358.18 L462.27,358.24 L462.73,358.29 L463.19,358.35 L463.66,358.40 L464.12,358.45 L464.58,358.49 L465.05,358.54 L465.51,358.59 L465.97,358.63 L466.43,358.67 L466.90,358.71 L467.36,358.75 L467.82,358.79 L468.28,358.83 L468.75,358.87 L469.21,358.90 L469.67,358.94 L470.14,358.97 L470.60,359.01 L471.06,359.04 L471.52,359.07 L471.99,359.10 L472.45,359.13 L472.91,359.16 L473.37,359.19 L473.84,359.22 L474.30,359.24 L474.76,359.27 L475.23,359.29 L475.69,359.32 L476.15,359.34 L476.61,359.37 L477.08,359.39 L477.54,359.41 L478.00,359.44 L478.46,359.46 L478.93,359.48 L479.39,359.50 L479.85,359.52 L480.32,359.54 L480.78,359.56 L481.24,359.58 L481.70,359.60 L482.17,359.62 L482.63,359.63 L483.09,359.65 L483.56,359.67 L484.02,359.68 L484.48,359.70 L484.94,359.72 L485.41,359.73 L485.87,359.75 L486.33,359.76 L486.79,359.78 L487.26,359.79 L487.72,359.81 L488.18,359.82 L488.65,359.83 L489.11,359.85 L489.57,359.86 L490.03,359.87 L490.50,359.88 L490.96,359.90 L491.42,359.91 L491.88,359.92 L492.35,359.93 L492.81,359.94" fill="none" stroke="#2aa02a" stroke-width="1.45"/>
<rect x="61.35" y="13.60" width="467.25" height="152.30" fill="none" stroke="#1e1e1e" stroke-width="1.40"/>
<path d="M61.35,165.90 V172.70 M100.29,165.90 V169.40 M139.22,165.90 V172.70 M178.16,165.90 V169.40 M217.10,165.90 V172.70 M256.04,165.90 V169.40 M294.98,165.90 V172.70 M333.91,165.90 V169.40 M372.85,165.90 V172.70 M411.79,165.90 V169.40 M450.73,165.90 V172.70 M489.66,165.90 V169.40 M528.60,165.90 V172.70 M61.35,165.90 H55.05 M61.35,144.14 H57.95 M61.35,122.39 H55.05 M61.35,100.63 H57.95 M61.35,78.87 H55.05 M61.35,57.11 H57.95 M61.35,35.36 H55.05 M61.35,13.60 H57.95" stroke="#1e1e1e" stroke-width="1.40" fill="none"/>
<path d="M288.40,208.60 H59.70 V360.85 H288.40 M298.00,208.60 H527.20 V360.85 H298.00 M59.70,360.85 V367.75 M117.00,360.85 V364.35 M174.30,360.85 V367.75 M231.60,360.85 V364.35 M296.80,360.85 V367.75 M354.45,360.85 V364.35 M412.10,360.85 V367.75 M469.75,360.85 V364.35 M527.40,360.85 V367.75 M59.70,360.85 H53.10 M59.70,343.93 H56.20 M59.70,327.02 H53.10 M59.70,310.10 H56.20 M59.70,293.18 H53.10 M59.70,276.27 H56.20 M59.70,259.35 H53.10 M59.70,242.43 H56.20 M59.70,225.52 H53.10 M59.70,208.60 H56.20 M285.2,214.90 L293.6,202.30 M293.3,214.90 L301.7,202.30 M285.2,367.15 L293.6,354.55 M293.3,367.15 L301.7,354.55" stroke="#1e1e1e" stroke-width="1.40" fill="none"/>
<text x="50.00" y="169.30" text-anchor="end" class="t">0</text>
<text x="50.00" y="125.79" text-anchor="end" class="t">10</text>
<text x="50.00" y="82.27" text-anchor="end" class="t">20</text>
<text x="50.00" y="38.76" text-anchor="end" class="t">30</text>
<text x="61.35" y="186.00" text-anchor="middle" class="t">1440</text>
<text x="139.22" y="186.00" text-anchor="middle" class="t">1450</text>
<text x="217.10" y="186.00" text-anchor="middle" class="t">1460</text>
<text x="294.98" y="186.00" text-anchor="middle" class="t">1470</text>
<text x="372.85" y="186.00" text-anchor="middle" class="t">1480</text>
<text x="450.73" y="186.00" text-anchor="middle" class="t">1490</text>
<text x="528.60" y="186.00" text-anchor="middle" class="t">1500</text>
<text x="48.60" y="364.55" text-anchor="end" class="tb">0</text>
<text x="48.60" y="330.72" text-anchor="end" class="tb">10</text>
<text x="48.60" y="296.88" text-anchor="end" class="tb">20</text>
<text x="48.60" y="263.05" text-anchor="end" class="tb">30</text>
<text x="48.60" y="229.22" text-anchor="end" class="tb">40</text>
<text x="59.70" y="381.30" text-anchor="middle" class="tb">1520</text>
<text x="174.30" y="381.30" text-anchor="middle" class="tb">1530</text>
<text x="296.80" y="381.30" text-anchor="middle" class="tb">1700</text>
<text x="412.10" y="381.30" text-anchor="middle" class="tb">1710</text>
<text x="527.40" y="381.30" text-anchor="middle" class="tb">1720</text>
<text x="115.40" y="32.00" text-anchor="middle" class="s">(2)</text>
<text x="139.50" y="32.00" text-anchor="middle" class="s">(1)</text>
<text x="238.60" y="32.00" text-anchor="middle" class="s">(3)</text>
<text x="366.50" y="32.00" text-anchor="middle" class="s">(2)</text>
<text x="400.20" y="32.00" text-anchor="middle" class="s">(1)</text>
<text x="439.80" y="32.00" text-anchor="middle" class="s">(3)</text>
<text x="221.00" y="257.00" text-anchor="middle" class="s">(4)</text>
<text x="432.10" y="257.10" text-anchor="middle" class="s">(4)</text>
<text x="514.60" y="28.80" text-anchor="middle" class="p">(a)</text>
<text x="514.10" y="221.70" text-anchor="middle" class="p">(b)</text>
<text x="293.2" y="405.6" text-anchor="middle" class="xt">photon energy (meV)</text>
<text transform="translate(20.40,295.00) rotate(-90)" class="yt">Exciton Absorption (10<tspan dy="-7.80" class="sup">3</tspan><tspan dx="-0.8" dy="7.80"> cm</tspan><tspan dy="-7.80" class="sup">-1</tspan><tspan dy="7.80">)</tspan></text>
</svg>
</body></html>
